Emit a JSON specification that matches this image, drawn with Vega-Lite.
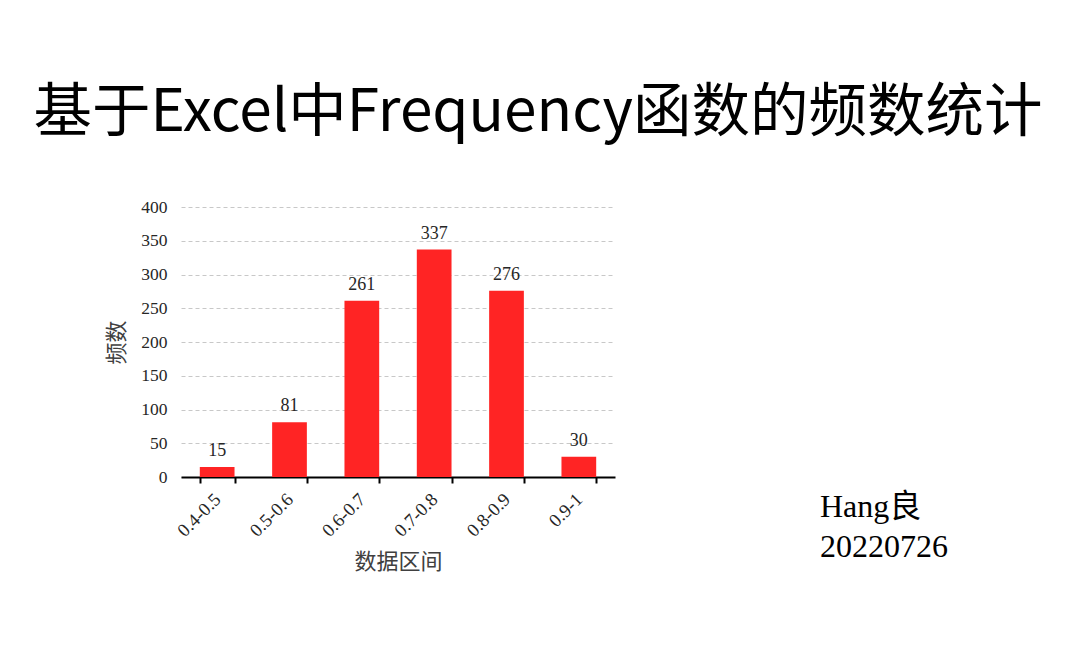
{
  "$schema": "https://vega.github.io/schema/vega-lite/v6.json",
  "background": "white",
  "padding": {"left": 33, "top": 83, "right": 5, "bottom": 5},
  "title": {
    "text": "基于Excel中Frequency函数的频数统计",
    "font": "Noto Sans CJK SC",
    "fontSize": 58.5,
    "fontWeight": "normal",
    "color": "black",
    "anchor": "middle",
    "offset": 55
  },
  "config": {"view": {"stroke": null}},
  "spacing": 205,
  "hconcat": [
    {
      "width": 434,
      "height": 270,
      "data": {
        "values": [
          {"bin": "0.4-0.5", "count": 15},
          {"bin": "0.5-0.6", "count": 81},
          {"bin": "0.6-0.7", "count": 261},
          {"bin": "0.7-0.8", "count": 337},
          {"bin": "0.8-0.9", "count": 276},
          {"bin": "0.9-1", "count": 30}
        ]
      },
      "encoding": {
        "x": {
          "field": "bin",
          "type": "nominal",
          "sort": null,
          "scale": {"paddingInner": 0.52, "paddingOuter": 0.26},
          "axis": {
            "title": "数据区间",
            "titleFont": "Noto Sans CJK SC",
            "titleFontSize": 22,
            "titleFontWeight": "normal",
            "titleColor": "#404040",
            "titlePadding": 12,
            "labelFont": "Liberation Serif",
            "labelFontSize": 18.5,
            "labelColor": "#262626",
            "labelAngle": -45,
            "labelAlign": "right",
            "labelBaseline": "middle",
            "labelPadding": 13,
            "domainColor": "black",
            "domainWidth": 2,
            "ticks": true,
            "tickBand": "extent",
            "tickColor": "black",
            "tickWidth": 2,
            "tickSize": 6,
            "grid": false
          }
        },
        "y": {
          "field": "count",
          "type": "quantitative",
          "scale": {"domain": [0, 400], "nice": false},
          "axis": {
            "title": "频数",
            "titleFont": "Noto Sans CJK SC",
            "titleFontSize": 22,
            "titleFontWeight": "normal",
            "titleColor": "#404040",
            "titlePadding": 12,
            "values": [0, 50, 100, 150, 200, 250, 300, 350, 400],
            "labelFont": "Liberation Serif",
            "labelFontSize": 17.5,
            "labelColor": "#262626",
            "labelPadding": 14,
            "domain": false,
            "ticks": false,
            "grid": true,
            "gridColor": "#c8c8c8",
            "gridDash": [4, 3],
            "gridWidth": 1
          }
        }
      },
      "layer": [
        {"mark": {"type": "bar", "color": "#FF2424"}},
        {
          "mark": {
            "type": "text",
            "baseline": "bottom",
            "dy": -7,
            "font": "Liberation Serif",
            "fontSize": 18,
            "color": "#262626"
          },
          "encoding": {"text": {"field": "count", "type": "quantitative"}}
        }
      ]
    },
    {
      "width": 150,
      "height": 370,
      "data": {
        "values": [
          {"row": 1, "col": 0, "label": "Hang良"},
          {"row": 2, "col": 0, "label": "20220726"}
        ]
      },
      "mark": {
        "type": "text",
        "align": "left",
        "baseline": "middle",
        "font": "Liberation Serif, Noto Sans CJK SC",
        "fontSize": 32,
        "color": "black"
      },
      "encoding": {
        "x": {"field": "col", "type": "quantitative", "scale": {"domain": [0, 1]}, "axis": null},
        "y": {
          "field": "row",
          "type": "quantitative",
          "scale": {"domain": [-6.5, 2.75], "reverse": true, "nice": false, "zero": false},
          "axis": null
        },
        "text": {"field": "label"}
      }
    }
  ]
}
